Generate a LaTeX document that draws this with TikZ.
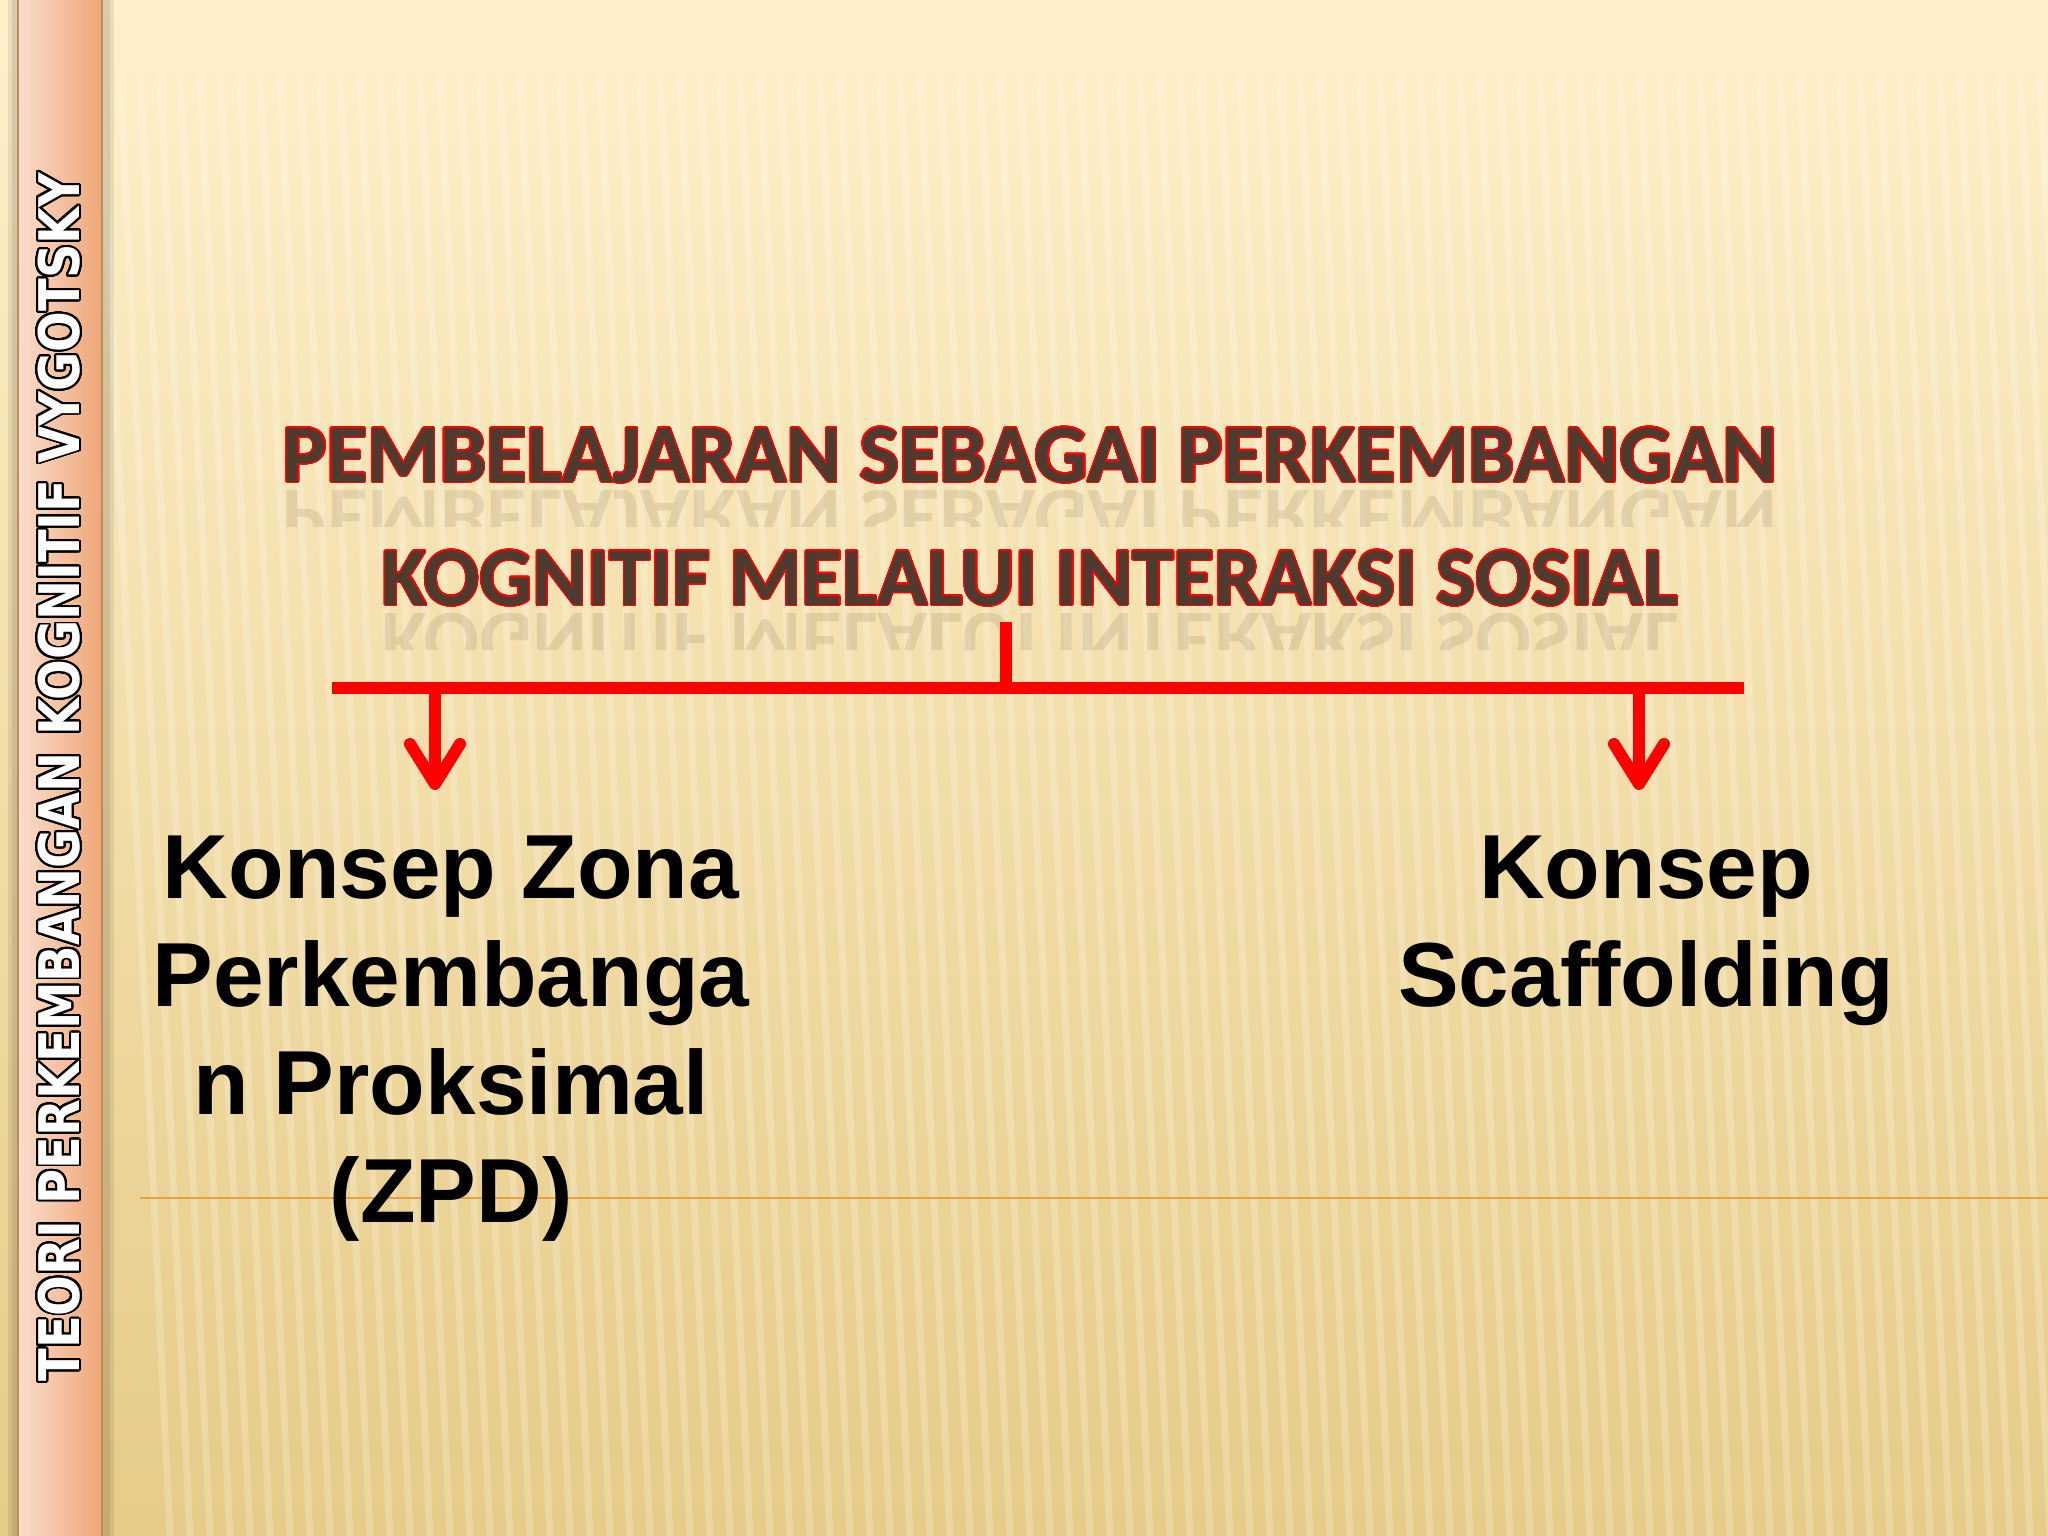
\documentclass[tikz,border=0pt]{standalone}
\usepackage{fontspec}
\setmainfont{Liberation Sans}
\newfontfamily\titlefont{Carlito}
\newfontfamily\sidefont{DejaVu Sans Condensed}
\usepackage{contour}
\usetikzlibrary{arrows.meta,positioning}

\definecolor{bgtop}{HTML}{FEF0CA}
\definecolor{bgmid}{HTML}{F6E2AA}
\definecolor{bgbot}{HTML}{E6CB88}
\definecolor{barleft}{HTML}{FADDCC}
\definecolor{barright}{HTML}{EFA676}
\definecolor{barrim}{HTML}{C08A5A}
\definecolor{titlefill}{HTML}{4E3B30}
\definecolor{rule}{HTML}{E8A040}

\contournumber{32}

\begin{document}
\begin{tikzpicture}[x=1pt,y=-1pt]

  \useasboundingbox (0,0) rectangle (2048,1536);

  % node styles
  \tikzstyle{Title}=[
  anchor=base,
  inner sep=0pt,
  text=titlefill,
  font=\titlefont\bfseries\fontsize{83}{100}\selectfont]

  \tikzstyle{Echo}=[Title,yscale=-1,text=titlefill!70!bgmid,opacity=0.17]

  \tikzstyle{Topic}=[
  anchor=north,
  inner sep=0pt,
  align=center,
  font=\bfseries\fontsize{91}{108}\selectfont]

  \tikzstyle{Link}=[red,line width=12pt]
  \tikzstyle{Down}=[Link,-{Straight Barb[length=40pt,width=50pt,line cap=round,line join=round]}]

  % background
  \shade[top color=bgtop,middle color=bgmid,bottom color=bgbot] (0,0) rectangle (2048,1536);
  \begin{scope}
    \clip (0,0) rectangle (2048,1536);
    \foreach \i in {0,...,105}
      \draw[white,opacity=0.22,line width=7pt] (\i*20+100,70) -- (\i*20+170,1536);
    \fill[bgtop,opacity=0.6] (0,0) rectangle (2048,75);
  \end{scope}
  \draw[rule,line width=2.5pt] (140,1198) -- (2048,1198);

  % side bar
  \fill[black,opacity=0.08] (8,0) rectangle (114,1536);
  \fill[black,opacity=0.08] (12,0) rectangle (110,1536);
  \shade[left color=barleft,right color=barright,draw=barrim,line width=2pt]
    (18,-2) rectangle (102,1538);
  \node[rotate=90,inner sep=0pt,xscale=0.95,
    font=\sidefont\bfseries\fontsize{56}{56}\selectfont] (side) at (60,777)
    {\color{white}\contourlength{2pt}\contour{black}{TEORI PERKEMBANGAN KOGNITIF VYGOTSKY}};

  % heading with its reflection
  \node[Title] (T1) at (1030,482) {\contourlength{1.2pt}\contour{red}{PEMBELAJARAN SEBAGAI PERKEMBANGAN}};
  \node[Title] (T2) at (1030,605) {\contourlength{1.2pt}\contour{red}{KOGNITIF MELALUI INTERAKSI SOSIAL}};
  \begin{scope}
    \clip (200,490) rectangle (1850,526);
    \node[Echo] (E1) at (1030,490) {PEMBELAJARAN SEBAGAI PERKEMBANGAN};
  \end{scope}
  \begin{scope}
    \clip (200,613) rectangle (1850,649);
    \node[Echo] (E2) at (1030,613) {KOGNITIF MELALUI INTERAKSI SOSIAL};
  \end{scope}

  % branches
  \coordinate (X) at (1006,688);
  \coordinate (S) at (1006,622);
  \node[Topic] (Z) at (451,836) {Konsep Zona\\Perkembanga\\n Proksimal\\(ZPD)};
  \node[Topic] (F) at (1646,836) {Konsep\\Scaffolding};

  \draw[Link] (S) -- (X);
  \draw[Link] (X) -- +(-674,0) coordinate (L);
  \draw[Link] (X) -- +(738,0) coordinate (R);
  \draw[Down] (X) +(-571,0) coordinate (A) -- +(-571,102);
  \draw[Down] (X) +(633,0) coordinate (B) -- +(633,102);

\end{tikzpicture}
\end{document}
